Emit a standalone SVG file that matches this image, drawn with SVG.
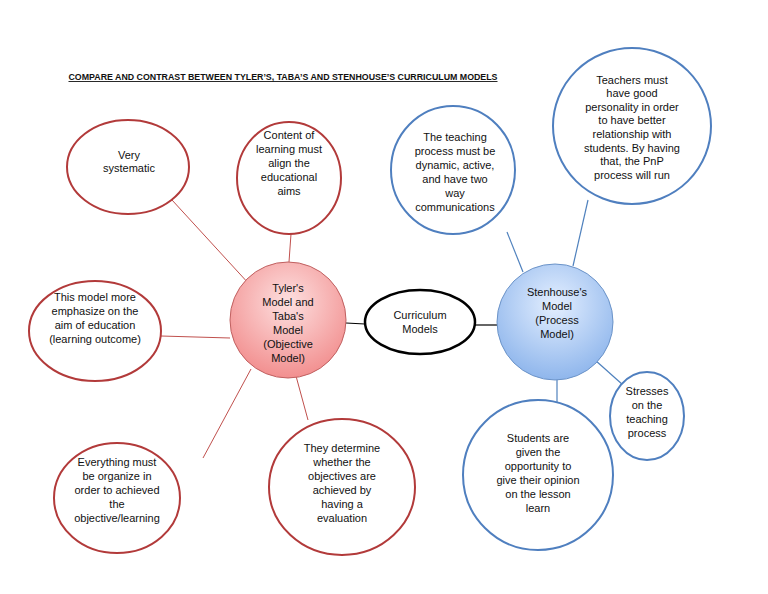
<svg xmlns="http://www.w3.org/2000/svg" width="768" height="594" viewBox="0 0 768 594">
<style>
text{font-family:"Liberation Sans",Arial,sans-serif;font-size:11px;fill:#111;text-anchor:middle}
.r{fill:#fff;stroke:#b23a3a;stroke-width:2}
.b{fill:#fff;stroke:#4f7fbf;stroke-width:2}
.rl{stroke:#c0504d;stroke-width:1}
.bl{stroke:#4f81bd;stroke-width:1.2}
.kl{stroke:#000;stroke-width:1.2}
</style>
<defs>
<radialGradient id="gr" cx="50%" cy="35%" r="65%"><stop offset="0" stop-color="#fde0e0"/><stop offset="1" stop-color="#f28f8f"/></radialGradient>
<radialGradient id="gb" cx="50%" cy="35%" r="65%"><stop offset="0" stop-color="#e4efff"/><stop offset="1" stop-color="#8fb6ec"/></radialGradient>
</defs>
<rect width="768" height="594" fill="#fff"/>
<text x="283" y="80" style="font-weight:bold;font-size:9px;text-decoration:underline" textLength="429" lengthAdjust="spacingAndGlyphs">COMPARE AND CONTRAST BETWEEN TYLER’S, TABA’S AND STENHOUSE’S CURRICULUM MODELS</text>
<g id="connectors">
<line class="rl" x1="172" y1="200" x2="250" y2="285"/>
<line class="rl" x1="291" y1="234" x2="289" y2="262"/>
<line class="rl" x1="161" y1="336" x2="230" y2="338"/>
<line class="rl" x1="203" y1="458" x2="251" y2="369"/>
<line class="rl" x1="296" y1="376" x2="308" y2="420"/>
<line class="kl" x1="346" y1="323" x2="365" y2="324"/>
<line class="kl" x1="475" y1="325" x2="497" y2="325"/>
<line class="bl" x1="507" y1="232" x2="523" y2="272"/>
<line class="bl" x1="588" y1="200" x2="573" y2="266"/>
<line class="bl" x1="557" y1="379" x2="557" y2="402"/>
<line class="bl" x1="595" y1="360" x2="623" y2="385"/>
</g>
<g id="tyler"><circle cx="288" cy="320" r="58" fill="url(#gr)" stroke="#c06060" stroke-width="1"/>
<text x="288" y="292">Tyler's</text><text x="288" y="306">Model and</text><text x="288" y="320">Taba's</text><text x="288" y="334">Model</text><text x="288" y="348">(Objective</text><text x="288" y="362">Model)</text></g>
<g id="curriculum"><ellipse cx="420" cy="322" rx="55" ry="32" fill="#fff" stroke="#000" stroke-width="2.5"/>
<text x="420" y="319">Curriculum</text><text x="420" y="333">Models</text></g>
<g id="stenhouse"><circle cx="555" cy="322" r="58" fill="url(#gb)" stroke="#6b93c8" stroke-width="1"/>
<text x="557" y="296">Stenhouse's</text><text x="557" y="310">Model</text><text x="557" y="324">(Process</text><text x="557" y="338">Model)</text></g>
<g id="n1"><ellipse class="r" cx="128" cy="167" rx="61" ry="47"/><text x="129" y="159">Very</text><text x="129" y="172">systematic</text></g>
<g id="n2"><ellipse class="r" cx="289" cy="178" rx="52" ry="56"/><text x="289" y="139">Content of</text><text x="289" y="153">learning must</text><text x="289" y="167">align the</text><text x="289" y="181">educational</text><text x="289" y="195">aims</text></g>
<g id="n3"><ellipse class="r" cx="95" cy="331" rx="66" ry="50"/><text x="95" y="301">This model more</text><text x="95" y="315">emphasize on the</text><text x="95" y="329">aim of education</text><text x="95" y="343">(learning outcome)</text></g>
<g id="n4"><ellipse class="r" cx="117" cy="498" rx="63" ry="55"/><text x="117" y="466">Everything must</text><text x="117" y="480">be organize in</text><text x="117" y="494">order to achieved</text><text x="117" y="508">the</text><text x="117" y="522">objective/learning</text></g>
<g id="n5"><ellipse class="r" cx="342" cy="487" rx="73" ry="68"/><text x="342" y="452">They determine</text><text x="342" y="466">whether the</text><text x="342" y="480">objectives are</text><text x="342" y="494">achieved by</text><text x="342" y="508">having a</text><text x="342" y="522">evaluation</text></g>
<g id="n6"><ellipse class="b" cx="453" cy="170" rx="62" ry="64"/><text x="455" y="141">The teaching</text><text x="455" y="155">process must be</text><text x="455" y="169">dynamic, active,</text><text x="455" y="183">and have two</text><text x="455" y="197">way</text><text x="455" y="211">communications</text></g>
<g id="n7"><ellipse class="b" cx="632" cy="126" rx="79" ry="78"/><text x="632" y="84">Teachers must</text><text x="632" y="97">have good</text><text x="632" y="111">personality in order</text><text x="632" y="124">to have better</text><text x="632" y="138">relationship with</text><text x="632" y="152">students. By having</text><text x="632" y="165">that, the PnP</text><text x="632" y="179">process will run</text></g>
<g id="n8"><ellipse class="b" cx="538" cy="475" rx="75" ry="75"/><text x="538" y="442">Students are</text><text x="538" y="456">given the</text><text x="538" y="470">opportunity to</text><text x="538" y="484">give their opinion</text><text x="538" y="498">on the lesson</text><text x="538" y="512">learn</text></g>
<g id="n9"><ellipse class="b" cx="647" cy="416" rx="37" ry="44"/><text x="647" y="395">Stresses</text><text x="647" y="409">on the</text><text x="647" y="423">teaching</text><text x="647" y="437">process</text></g>
</svg>
